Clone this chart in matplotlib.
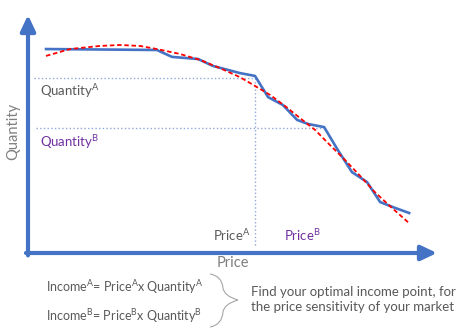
import matplotlib.pyplot as plt
from matplotlib.path import Path
from matplotlib.patches import PathPatch

plt.rcParams['font.family'] = ['Lato', 'DejaVu Sans']
plt.rcParams['mathtext.fontset'] = 'custom'
plt.rcParams['mathtext.rm'] = 'Lato'

# observed demand (price vs quantity sold)
price = [4.4, 31.5, 35.2, 41.6, 45.2, 51.8, 55.5, 58.7, 62.3, 65.8, 68.5,
         72.4, 75.6, 79.2, 82.9, 86.1, 89.2, 93.2]
quantity = [85.7, 85.3, 82.4, 81.5, 78.6, 75.6, 74.4, 65.5, 62.2, 55.9, 54.2,
            52.9, 43.7, 34.0, 29.8, 21.4, 19.3, 16.8]

# smoothed trend of the demand curve
trend_price = [4.4, 10.3, 17.6, 22.5, 27.4, 31.5, 37.2, 42.1, 46.9, 51.8, 55.5,
               59.2, 62.8, 66.5, 70.2, 73.8, 77.5, 81.2, 84.8, 88.5, 93.4]
trend_quantity = [82.8, 85.7, 87.0, 87.4, 87.0, 85.7, 83.6, 81.1, 77.7, 73.9, 70.2,
                  66.4, 61.8, 56.7, 51.7, 45.4, 39.1, 32.4, 25.6, 19.7, 12.2]

price_a, quantity_a = 55.5, 73.5
price_b, quantity_b = 72.4, 52.5

blue = '#4472C4'
grey = '#595959'
purple = '#7030A0'
guide = '#8EA9DB'

fig = plt.figure(figsize=(4.74, 3.33), dpi=100)
ax = fig.add_axes([28 / 474, 80 / 333, 409 / 474, 238 / 333])
ax.set_xlim(0, 100)
ax.set_ylim(0, 100)
ax.axis('off')

# guide lines for the two price points
ax.plot([1.5, price_a], [quantity_a, quantity_a], ls=':', color=guide, lw=1)
ax.plot([price_a, price_a], [quantity_a, 3], ls=':', color=guide, lw=1)
ax.plot([2, price_b], [quantity_b, quantity_b], ls=':', color=guide, lw=1)

ax.plot(price, quantity, color=blue, lw=1.9, solid_joinstyle='round')
ax.plot(trend_price, trend_quantity, color='#FF0000', lw=1.3, ls=(0, (2.5, 1.5)))

# axis arrows
arrow = dict(arrowstyle='-|>,head_length=0.95,head_width=0.45', lw=3,
             color=blue, shrinkA=0, shrinkB=0, mutation_scale=10)
ax.annotate('', xy=(0, 1), xytext=(0, -0.01), xycoords='axes fraction', arrowprops=arrow)
ax.annotate('', xy=(1, 0), xytext=(-0.005, 0), xycoords='axes fraction', arrowprops=arrow)

ax.text(3, quantity_a - 1.8, r'Quantity$^\mathrm{A}$', color=grey, fontsize=9.5, va='top')
ax.text(3, quantity_b - 2.2, r'Quantity$^\mathrm{B}$', color=purple, fontsize=9.5, va='top')
ax.text(price_a - 1, 7.5, r'Price$^\mathrm{A}$', color=grey, fontsize=9.5, ha='right', va='center')
ax.text(62.5, 7.5, r'Price$^\mathrm{B}$', color=purple, fontsize=9.5, ha='left', va='center')

ax.text(-3.5, 51, 'Quantity', color='#7F7F7F', fontsize=10.5, rotation=90,
        ha='center', va='center')
ax.text(50, -4.3, 'Price', color='#7F7F7F', fontsize=10.5, ha='center', va='center')

# formulas and note below the chart, placed in pixel space
deco = fig.add_axes([0, 0, 1, 1], zorder=-1)
deco.set_xlim(0, 474)
deco.set_ylim(333, 0)
deco.axis('off')

deco.text(46, 287, r'Income$^\mathrm{A}$= Price$^\mathrm{A}$x Quantity$^\mathrm{A}$',
          color=grey, fontsize=9, va='center')
deco.text(46, 316, r'Income$^\mathrm{B}$= Price$^\mathrm{B}$x Quantity$^\mathrm{B}$',
          color=grey, fontsize=9, va='center')
deco.text(251, 292, 'Find your optimal income point, for', color=grey,
          fontsize=9.5, va='center')
deco.text(251, 307, 'the price sensitivity of your market', color=grey,
          fontsize=9.5, va='center')

brace = Path([(210, 274), (222, 276), (223, 288), (224, 296), (238, 300),
              (224, 304), (223, 312), (222, 325), (210, 327)],
             [Path.MOVETO, Path.CURVE3, Path.CURVE3, Path.CURVE3, Path.CURVE3,
              Path.CURVE3, Path.CURVE3, Path.CURVE3, Path.CURVE3])
deco.add_patch(PathPatch(brace, fill=False, edgecolor='#A6A6A6', lw=0.8))

fig.savefig('out.png', dpi=100)
